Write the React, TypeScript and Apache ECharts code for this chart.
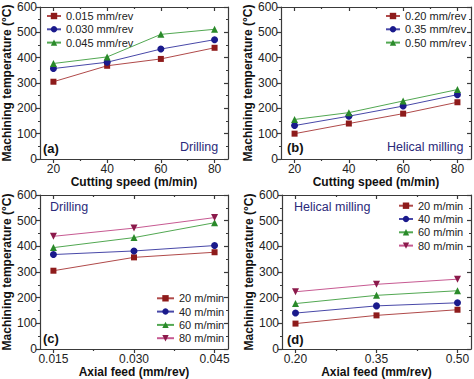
import React, { useEffect, useRef } from "react";
import * as echarts from "echarts";

// ---- data ----
const speeds = [20, 40, 60, 80];
const speedMinor = [30, 50, 70];
const speedLabels = ["20", "40", "60", "80"];

const drillFeeds = [0.015, 0.03, 0.045];
const drillFeedMinor = [0.0225, 0.0375];
const drillFeedLabels = ["0.015", "0.030", "0.045"];

const millFeeds = [0.2, 0.35, 0.5];
const millFeedMinor = [0.275, 0.425];
const millFeedLabels = ["0.20", "0.35", "0.50"];

// (a) drilling vs cutting speed
const drillF015 = [305, 368, 395, 439];
const drillF030 = [357, 382, 434, 471];
const drillF045 = [377, 403, 492, 512];
// (b) helical milling vs cutting speed
const millF020 = [100, 140, 179, 224];
const millF035 = [132, 169, 209, 254];
const millF050 = [156, 183, 229, 274];
// (c) drilling vs axial feed
const drillV20 = [305, 357, 377];
const drillV40 = [368, 382, 403];
const drillV60 = [395, 434, 492];
const drillV80 = [439, 471, 512];
// (d) helical milling vs axial feed
const millV20 = [99, 131, 153];
const millV40 = [140, 168, 180];
const millV60 = [177, 209, 227];
const millV80 = [223, 252, 272];

const yTicks = { min: 0, max: 600, interval: 100 };

const FONT = "'Liberation Sans', Arial, Helvetica, sans-serif";
const AXIS_COLOR = "#3a3a3a";
const NAVY = "#2b2a7a";

const STY = [
  { marker: "#8e1b1b", line: "#b04a4a", symbol: "rect", size: 6, rot: 0 },
  { marker: "#1a1a8c", line: "#4848a8", symbol: "circle", size: 7, rot: 0 },
  { marker: "#2a8a2a", line: "#52a852", symbol: "triangle", size: 7, rot: 0 },
  { marker: "#8b1a4b", line: "#c75a92", symbol: "triangle", size: 7, rot: 180 },
];

type Panel = {
  grid: { left: number; top: number; width: number; height: number };
  xs: number[];
  minor: number[];
  labels: string[];
  min: number;
  max: number;
  xName: string;
  yNameGap: number;
  series: { name: string; data: number[] }[];
  legend: { left: number; top: number; itemWidth: number };
};

const panels: Panel[] = [
  {
    grid: { left: 40, top: 7, width: 188, height: 152 },
    xs: speeds, minor: speedMinor, labels: speedLabels, min: 15, max: 85,
    xName: "Cutting speed (m/min)", yNameGap: 25,
    series: [
      { name: "0.015 mm/rev", data: drillF015 },
      { name: "0.030 mm/rev", data: drillF030 },
      { name: "0.045 mm/rev", data: drillF045 },
    ],
    legend: { left: 46, top: 9.5, itemWidth: 14 },
  },
  {
    grid: { left: 281, top: 7, width: 190, height: 152 },
    xs: speeds, minor: speedMinor, labels: speedLabels, min: 15, max: 85,
    xName: "Cutting speed (m/min)", yNameGap: 22,
    series: [
      { name: "0.20 mm/rev", data: millF020 },
      { name: "0.35 mm/rev", data: millF035 },
      { name: "0.50 mm/rev", data: millF050 },
    ],
    legend: { left: 385, top: 9.5, itemWidth: 14 },
  },
  {
    grid: { left: 40, top: 195, width: 188, height: 154 },
    xs: drillFeeds, minor: drillFeedMinor, labels: drillFeedLabels, min: 0.0125, max: 0.0475,
    xName: "Axial feed (mm/rev)", yNameGap: 25,
    series: [
      { name: "20 m/min", data: drillV20 },
      { name: "40 m/min", data: drillV40 },
      { name: "60 m/min", data: drillV60 },
      { name: "80 m/min", data: drillV80 },
    ],
    legend: { left: 156, top: 291.8, itemWidth: 17 },
  },
  {
    grid: { left: 282, top: 195, width: 189, height: 154 },
    xs: millFeeds, minor: millFeedMinor, labels: millFeedLabels, min: 0.175, max: 0.525,
    xName: "Axial feed (mm/rev)", yNameGap: 21,
    series: [
      { name: "20 m/min", data: millV20 },
      { name: "40 m/min", data: millV40 },
      { name: "60 m/min", data: millV60 },
      { name: "80 m/min", data: millV80 },
    ],
    legend: { left: 398, top: 199.2, itemWidth: 14 },
  },
];

const annotations = [
  { text: "(a)", x: 43, y: 148, bold: true },
  { text: "Drilling", x: 180, y: 147, bold: false },
  { text: "(b)", x: 287, y: 147, bold: true },
  { text: "Helical milling", x: 387, y: 147, bold: false },
  { text: "(c)", x: 43, y: 338, bold: true },
  { text: "Drilling", x: 50, y: 207, bold: false },
  { text: "(d)", x: 287, y: 339, bold: true },
  { text: "Helical milling", x: 294, y: 207, bold: false },
];

function buildOption() {
  const grid: any[] = [];
  const xAxis: any[] = [];
  const yAxis: any[] = [];
  const series: any[] = [];
  const legend: any[] = [];

  panels.forEach((p, i) => {
    grid.push({ ...p.grid, containLabel: false });
    const fmt = (v: number) => {
      const k = p.xs.findIndex((x) => Math.abs(x - v) < 1e-9);
      return k >= 0 ? p.labels[k] : "";
    };
    const lineStyle = { color: AXIS_COLOR, width: 1.2 };
    const baseX = {
      type: "value", gridIndex: i, min: p.min, max: p.max,
      splitLine: { show: false },
    };
    xAxis.push({
      ...baseX, position: "bottom",
      axisLine: { show: true, onZero: false, lineStyle },
      axisTick: { show: true, inside: false, length: 4, customValues: p.xs, lineStyle },
      axisLabel: { show: true, customValues: p.xs, formatter: fmt, margin: 4, fontSize: 12, color: "#222", fontFamily: FONT },
      name: p.xName, nameLocation: "middle", nameGap: 17,
      nameTextStyle: { fontSize: 12, fontWeight: "bold", color: "#111", fontFamily: FONT },
    });
    xAxis.push({
      ...baseX, position: "bottom",
      axisLine: { show: false, onZero: false },
      axisTick: { show: true, inside: false, length: 2, customValues: p.minor, lineStyle },
      axisLabel: { show: false },
    });
    xAxis.push({
      ...baseX, position: "top",
      axisLine: { show: true, onZero: false, lineStyle },
      axisTick: { show: true, inside: true, length: 4, customValues: p.xs, lineStyle },
      axisLabel: { show: false },
    });
    xAxis.push({
      ...baseX, position: "top",
      axisLine: { show: false, onZero: false },
      axisTick: { show: true, inside: true, length: 2, customValues: p.minor, lineStyle },
      axisLabel: { show: false },
    });

    yAxis.push({
      type: "value", gridIndex: i, position: "left", ...yTicks,
      splitLine: { show: false },
      axisLine: { show: true, onZero: false, lineStyle },
      axisTick: { show: true, inside: false, length: 4, lineStyle },
      minorTick: { show: true, splitNumber: 2, length: 2, lineStyle },
      axisLabel: { fontSize: 12, color: "#222", margin: 3, fontFamily: FONT },
      name: "Machining temperature (°C)", nameLocation: "middle", nameGap: p.yNameGap,
      nameTextStyle: { fontSize: 12, fontWeight: "bold", color: "#111", fontFamily: FONT },
    });
    yAxis.push({
      type: "value", gridIndex: i, position: "right", ...yTicks,
      splitLine: { show: false },
      axisLine: { show: true, onZero: false, lineStyle },
      axisTick: { show: true, inside: true, length: 4, lineStyle },
      minorTick: { show: true, splitNumber: 2, length: 2, lineStyle },
      axisLabel: { show: false },
    });

    p.series.forEach((s, k) => {
      const st = STY[k];
      series.push({
        type: "line",
        name: s.name,
        xAxisIndex: i * 4,
        yAxisIndex: i * 2,
        data: p.xs.map((x, j) => [x, s.data[j]]),
        symbol: st.symbol,
        symbolSize: st.size,
        symbolRotate: st.rot,
        showSymbol: true,
        itemStyle: { color: st.marker },
        lineStyle: { color: st.line, width: 1 },
        z: 3 + k,
      });
    });

    legend.push({
      orient: "vertical",
      left: p.legend.left,
      top: p.legend.top,
      itemWidth: p.legend.itemWidth,
      itemHeight: 8,
      itemGap: 0.3,
      padding: 0,
      selectedMode: false,
      data: p.series.map((s) => s.name),
      textStyle: { fontSize: 11, color: "#222", lineHeight: 13, fontFamily: FONT },
    });
  });

  const graphic = annotations.map((a) => ({
    type: "text",
    x: a.x,
    y: a.y,
    z: 10,
    style: {
      text: a.text,
      fontSize: a.bold ? 13 : 12.5,
      fontWeight: a.bold ? "bold" : "normal",
      fontFamily: FONT,
      fill: a.bold ? "#111" : NAVY,
      align: "left",
      verticalAlign: "middle",
    },
  }));

  return {
    animation: false,
    backgroundColor: "#ffffff",
    textStyle: { fontFamily: FONT },
    grid,
    xAxis,
    yAxis,
    series,
    legend,
    graphic,
  };
}

export default function App() {
  const ref = useRef<HTMLDivElement>(null);
  useEffect(() => {
    if (!ref.current) return;
    const chart = echarts.init(ref.current, undefined, { renderer: "svg" });
    chart.setOption(buildOption() as any);
    return () => chart.dispose();
  }, []);
  return (
    <div
      ref={ref}
      style={{ position: "absolute", left: 0, top: 0, width: 474, height: 379 }}
    />
  );
}
